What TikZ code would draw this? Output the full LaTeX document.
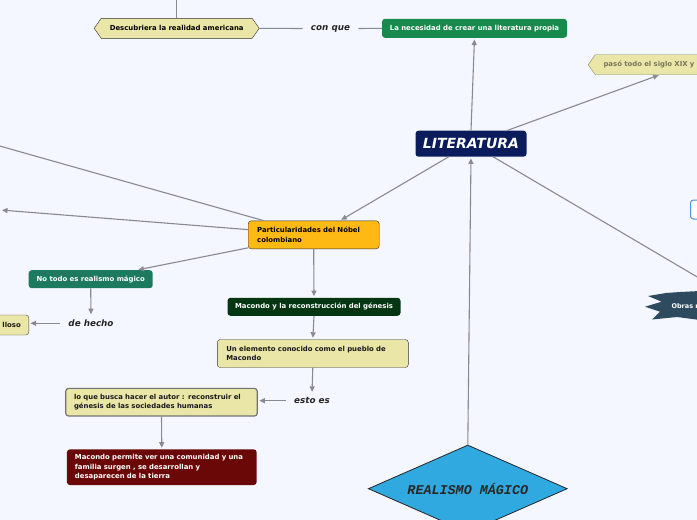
\documentclass[tikz,border=0pt]{standalone}
\usepackage{fontspec}
\setmainfont{DejaVu Sans}
\setmonofont{Liberation Mono}
\usetikzlibrary{arrows.meta,shapes.geometric,shapes.symbols}

\definecolor{canvas}{RGB}{244,247,255}
\definecolor{linkgray}{RGB}{137,137,150}
\definecolor{khaki}{RGB}{234,230,167}
\definecolor{topgreen}{RGB}{24,138,78}
\definecolor{navy}{RGB}{10,28,92}
\definecolor{amber}{RGB}{254,185,20}
\definecolor{teal}{RGB}{29,122,94}
\definecolor{darkgreen}{RGB}{4,54,18}
\definecolor{darkred}{RGB}{106,8,8}
\definecolor{skyblue}{RGB}{48,168,224}
\definecolor{slate}{RGB}{46,74,94}
\definecolor{fadedtext}{RGB}{120,118,90}
\definecolor{fadedborder}{RGB}{140,138,100}
\definecolor{linkblue}{RGB}{74,144,226}

\tikzset{
  topic/.style={rounded corners=3pt, inner ysep=0pt, font=\bfseries\fontsize{6.9}{9.3}\selectfont},
  lighttopic/.style={topic, fill=khaki, draw=black!80, text=black!90},
  darktopic/.style={topic, text=white},
  hexnode/.style={shape=signal, signal pointer angle=110, inner ysep=0pt, font=\bfseries\fontsize{6.9}{9.3}\selectfont},
  linkword/.style={font=\bfseries\itshape\fontsize{8.8}{10}\selectfont, text=black!85, inner xsep=8pt, inner ysep=4pt},
  link/.style={draw=linkgray, line width=1.1pt},
  arrowlink/.style={link, -{Triangle[length=5.5pt,width=5pt]}, shorten >=1.5pt},
}

\begin{document}
\begin{tikzpicture}[x=1pt,y=-1pt]
  % Background and page size
  \fill[canvas] (0,0) rectangle (697,520);
  \useasboundingbox (0,0) rectangle (697,520);

  % Central topic
  \node[darktopic, fill=navy, minimum width=111pt, minimum height=26pt, font=\bfseries\itshape\fontsize{14}{15}\selectfont] (literatura) at (471,143.7) {LITERATURA};

  % Upper branch
  \node[darktopic, fill=topgreen, minimum width=185pt, minimum height=19pt] (necesidad) at (474.5,28.3) {La necesidad de crear una literatura propia};
  \node[linkword] (conque) at (330.5,28.5) {con que};
  \node[hexnode, signal to=west and east, fill=khaki, draw=black!80, minimum width=165pt, minimum height=20pt] (descub) at (176.7,28.3) {Descubriera la realidad americana};
  \coordinate (descubup) at (176.7,-5);

  % Right branches
  \node[hexnode, signal to=west, fill=khaki, draw=fadedborder, text=fadedtext, minimum height=20pt, text width=160pt, inner xsep=8.3pt, align=left, anchor=west] (siglo) at (588,64.7) {pasó todo el siglo XIX y};
  \node[topic, fill=white, draw=linkblue, line width=1pt, minimum width=40pt, minimum height=19pt, anchor=west] (bluebox) at (690,209.5) {};
  \fill[slate] (648,296) -- (666,293) -- (680,292) -- (700,291) -- (700,320) -- (677,317)
    -- (652,319.5) -- (660,311.7) -- (645,306.7) -- (661.7,301.7) -- cycle;
  \node[darktopic, font=\bfseries\fontsize{6.5}{8}\selectfont, text width=150pt, align=left, anchor=west] (obras) at (668,306) {Obras m};

  % Left branches
  \node[topic, fill=amber, draw=black!80, text width=113pt, inner xsep=9pt, minimum height=28pt, align=left] (particular) at (313.7,234.8) {Particularidades del Nóbel\\colombiano};
  \coordinate (upleft) at (-30,137.6);
  \coordinate (leftend) at (0.5,210);
  \node[darktopic, fill=teal, minimum width=124pt, minimum height=18pt] (notodo) at (90.7,279.2) {No todo es realismo mágico};
  \node[linkword] (dehecho) at (91,323.3) {de hecho};
  \node[lighttopic, draw=black!70, text width=80pt, align=right, inner xsep=8pt, minimum height=20pt, anchor=east] (lloso) at (29,325) {lloso};

  % Lower chain
  \node[darktopic, fill=darkgreen, minimum width=173pt, minimum height=18pt] (macondog) at (314,306.8) {Macondo y la reconstrucción del génesis};
  \node[lighttopic, text width=173pt, inner xsep=9pt, minimum height=28pt, align=left] (elemento) at (312.8,353.5) {Un elemento conocido como el pueblo de\\Macondo};
  \node[linkword] (estoes) at (312,400.7) {esto es};
  \node[lighttopic, draw=black!55, line width=1.2pt, text width=175pt, inner xsep=8.3pt, minimum height=27.7pt, align=left] (busca) at (161.5,402.2) {lo que busca hacer el autor : reconstruir el\\génesis de las sociedades humanas};
  \node[darktopic, fill=darkred, text width=173.7pt, inner xsep=8pt, minimum height=35.7pt, align=left] (permite) at (161.8,467.2) {Macondo permite ver una comunidad y una\\familia surgen , se desarrollan y\\desaparecen de la tierra};

  % Bottom topic
  \node[diamond, fill=skyblue, draw=black!85, line width=0.8pt, minimum width=199pt, minimum height=87.4pt, shape aspect=2.3, inner sep=0pt, font=\ttfamily\bfseries\itshape\fontsize{13.4}{14}\selectfont, text=black!85] (realismo) at (467.8,488.7) {REALISMO MÁGICO};

  % Connectors
  \draw[link] (descubup) -- (descub.north);
  \draw[link] (descub.east) -- (conque.west);
  \draw[link] (conque.east) -- (necesidad.west);
  \draw[arrowlink] (literatura.north) -- (necesidad.south);
  \draw[arrowlink] (literatura) -- ([shift={(72,10)}]siglo.west);
  \draw[link] (literatura) -- (obras);
  \draw[arrowlink] (literatura) -- ([xshift=26.3pt]particular.north);
  \draw[arrowlink] (realismo.north) -- (literatura.south);
  \draw[link] (particular) -- (upleft);
  \draw[arrowlink] (particular) -- (leftend);
  \draw[arrowlink] (particular) -- (notodo);
  \draw[arrowlink] (notodo.south) -- (dehecho.north);
  \draw[arrowlink] (dehecho.west) -- (dehecho.west -| lloso.east);
  \draw[arrowlink] (particular.south) -- (macondog.north);
  \draw[arrowlink] (macondog.south) -- (elemento.north);
  \draw[arrowlink] (elemento.south) -- (estoes.north);
  \draw[arrowlink] (estoes.west) -- (estoes.west -| busca.east);
  \draw[arrowlink] (busca.south) -- (permite.north);
\end{tikzpicture}
\end{document}
